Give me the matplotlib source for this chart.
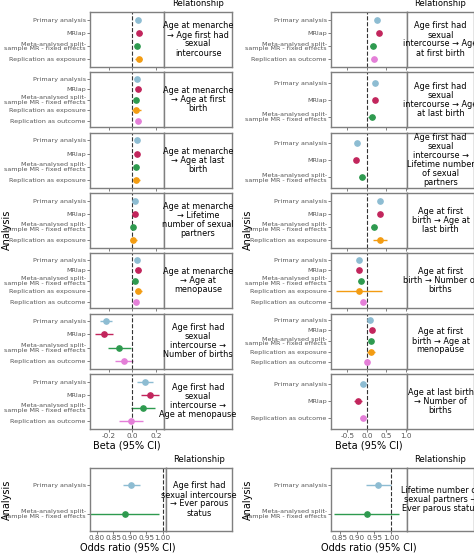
import numpy as np
import matplotlib
matplotlib.use("Agg")
import matplotlib.pyplot as plt

W, H = 474, 553
fig = plt.figure(figsize=(W / 100, H / 100), dpi=100)

colors = {"Primary analysis": "#8dbcd2", "MRlap": "#c2255c",
          "Meta-analysed split-\nsample MR - fixed effects": "#2e9a4f",
          "Replication as exposure": "#f39c12", "Replication as outcome": "#e47fd8"}
P, M, S, RE, RO = list(colors.keys())

# (relationship, analyses, estimates, half CI widths)
left_panels = [
    ("Age at menarche\n\u2192 Age first had\nsexual\nintercourse", [P, M, S, RE],
     [0.05, 0.06, 0.04, 0.055], [0.01, 0.02, 0.015, 0.03]),
    ("Age at menarche\n\u2192 Age at first\nbirth", [P, M, S, RE, RO],
     [0.04, 0.05, 0.03, 0.035, 0.05], [0.01, 0.02, 0.015, 0.04, 0.02]),
    ("Age at menarche\n\u2192 Age at last\nbirth", [P, M, S, RE],
     [0.04, 0.04, 0.03, 0.035], [0.01, 0.015, 0.015, 0.03]),
    ("Age at menarche\n\u2192 Lifetime\nnumber of sexual\npartners", [P, M, S, RE],
     [0.02, 0.02, 0.01, 0.01], [0.01, 0.015, 0.015, 0.03]),
    ("Age at menarche\n\u2192 Age at\nmenopause", [P, M, S, RE, RO],
     [0.04, 0.05, 0.02, 0.05, 0.03], [0.02, 0.025, 0.02, 0.03, 0.02]),
    ("Age first had\nsexual\nintercourse \u2192\nNumber of births", [P, M, S, RO],
     [-0.225, -0.24, -0.11, -0.07], [0.05, 0.08, 0.1, 0.08]),
    ("Age first had\nsexual\nintercourse \u2192\nAge at menopause", [P, M, S, RO],
     [0.11, 0.15, 0.09, -0.01], [0.07, 0.08, 0.1, 0.1]),
]
right_panels = [
    ("Age first had\nsexual\nintercourse \u2192 Age\nat first birth", [P, M, S, RO],
     [0.26, 0.3, 0.16, 0.18], [0.03, 0.05, 0.08, 0.07]),
    ("Age first had\nsexual\nintercourse \u2192 Age\nat last birth", [P, M, S],
     [0.2, 0.21, 0.12], [0.03, 0.05, 0.08]),
    ("Age first had\nsexual\nintercourse \u2192\nLifetime number\nof sexual\npartners", [P, M, S],
     [-0.25, -0.28, -0.13], [0.03, 0.05, 0.07]),
    ("Age at first\nbirth \u2192 Age at\nlast birth", [P, M, S, RE],
     [0.34, 0.34, 0.18, 0.34], [0.03, 0.04, 0.07, 0.18]),
    ("Age at first\nbirth \u2192 Number of\nbirths", [P, M, S, RE, RO],
     [-0.19, -0.21, -0.15, -0.2, -0.09], [0.03, 0.04, 0.07, 0.6, 0.03]),
    ("Age at first\nbirth \u2192 Age at\nmenopause", [P, M, S, RE, RO],
     [0.09, 0.12, 0.1, 0.11, 0.0], [0.04, 0.05, 0.05, 0.1, 0.05]),
    ("Age at last birth\n\u2192 Number of\nbirths", [P, M, RO],
     [-0.1, -0.23, -0.09], [0.07, 0.1, 0.08]),
]
or_panels = [
    ("Age first had\nsexual intercourse\n\u2192 Ever parous\nstatus", [P, S],
     [0.905, 0.885], [0.025, 0.105], (0.78, 1.01), [0.80, 0.85, 0.90, 0.95, 1.00]),
    ("Lifetime number of\nsexual partners \u2192\nEver parous status", [P, S],
     [0.962, 0.928], [0.037, 0.095], (0.825, 1.045), [0.85, 0.90, 0.95, 1.00]),
]

GRAY = "#7f7f7f"


def px(x, y, w, h):
    return [x / W, 1 - (y + h) / H, w / W, h / H]


def panel(x0, top, pw, sw, h, rel, names, est, ci, xlim, xticks, ref, show_x, fmt):
    ax = fig.add_axes(px(x0, top, pw, h))
    n = len(names)
    ys = np.arange(n)[::-1]
    for yy, nm, e, c in zip(ys, names, est, ci):
        ax.errorbar(e, yy, xerr=c, fmt="o", color=colors[nm], ms=3.8, lw=1.0, capsize=0)
    ax.axvline(ref, color="#333333", ls="--", lw=0.8)
    ax.set_ylim(-0.6, n - 0.4)
    ax.set_yticks(ys)
    ax.set_yticklabels(names, fontsize=4.6, color="#555555", linespacing=0.95)
    ax.set_xlim(*xlim)
    ax.set_xticks(xticks)
    if show_x:
        ax.set_xticklabels([fmt % t for t in xticks], fontsize=5.2, color="#555555")
    else:
        ax.set_xticklabels([])
        ax.tick_params(axis="x", length=0)
    ax.tick_params(axis="both", color=GRAY, width=0.7, length=2, pad=1)
    for s in ax.spines.values():
        s.set_color(GRAY)
        s.set_linewidth(1)
    sa = fig.add_axes(px(x0 + pw, top, sw, h))
    sa.set_xticks([]); sa.set_yticks([])
    for s in sa.spines.values():
        s.set_color(GRAY)
        s.set_linewidth(1)
    sa.text(0.5, 0.5, rel, ha="center", va="center", fontsize=5.9, linespacing=1.0,
            transform=sa.transAxes)
    return ax


cols = [(90, 74, 68, left_panels, (-0.36, 0.27), [-0.2, 0.0, 0.2]),
        (331, 76, 67, right_panels, (-0.92, 1.03), [-0.5, 0.0, 0.5, 1.0])]
for x0, pw, sw, panels, xlim, xt in cols:
    for i, (rel, names, est, ci) in enumerate(panels):
        top = 12 + i * 60.3
        ax = panel(x0, top, pw, sw, 55, rel, names, est, ci, xlim, xt, 0.0,
                   i == len(panels) - 1, "%.1f")
    ax.set_xlabel("Beta (95% CI)", fontsize=7, labelpad=1)
    fig.text((x0 + pw + sw / 2) / W, 1 - 4 / H, "Relationship", ha="center", va="center", fontsize=6)
    fig.text((x0 - 83) / W, 1 - 230 / H, "Analysis", rotation=90, ha="center", va="center", fontsize=7)

for (x0, pw, sw), (rel, names, est, ci, xlim, xt) in zip([(90, 76, 66), (331, 76, 67)], or_panels):
    ax = panel(x0, 468, pw, sw, 63, rel, names, est, ci, xlim, xt, 1.0, True, "%.2f")
    ax.set_xlabel("Odds ratio (95% CI)", fontsize=7, labelpad=1)
    fig.text((x0 + pw + sw / 2) / W, 1 - 460 / H, "Relationship", ha="center", va="center", fontsize=6)
    fig.text((x0 - 83) / W, 1 - 500 / H, "Analysis", rotation=90, ha="center", va="center", fontsize=7)

fig.savefig("out.png", dpi=100, facecolor="w")
